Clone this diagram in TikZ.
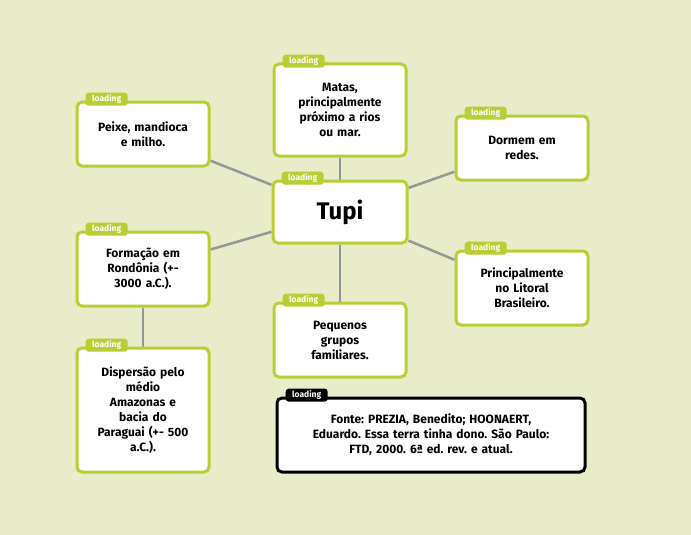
\documentclass[tikz,border=0pt]{standalone}
\usepackage{fontspec}
\setmainfont{Fira Sans}
\frenchspacing
\usetikzlibrary{backgrounds}
\definecolor{bg}{RGB}{232,236,201}
\definecolor{grn}{RGB}{184,206,52}
\definecolor{edge}{RGB}{150,150,150}
\tikzset{
 box/.style={draw=grn,line width=3pt,rounded corners=5pt,fill=white,align=center,font=\bfseries\fontsize{12}{15}\selectfont,inner sep=3pt},
 tab/.style={fill=grn,rounded corners=3pt,text=white,font=\bfseries\fontsize{8.5}{8.5}\selectfont,inner sep=2pt,minimum width=42pt,minimum height=13pt},
 link/.style={draw=edge,line width=2.5pt}
}
\newcommand{\bx}[7]{%
 \node[box,#7,minimum width=#4pt,minimum height=#5pt,text width=#4pt-12pt] (#1) at (#2,#3) {#6};
}
\newcommand{\tb}[2]{\node[tab,anchor=north west] (#1t) at ([xshift=10pt,yshift=8pt]#2.north west) {loading};}
\begin{document}
\begin{tikzpicture}[x=1pt,y=-1pt]
\bx{tupi}{340}{212}{134}{62}{\fontsize{24}{28}\selectfont Tupi}{}
\bx{matas}{340}{110}{132}{92}{Matas,\\principalmente\\próximo a rios\\ou mar.}{}
\bx{peixe}{143}{134}{132}{64}{Peixe, mandioca\\e milho.}{}
\bx{dorm}{522}{148}{132}{64}{Dormem em\\redes.}{}
\bx{form}{143}{269}{132}{74}{Formação em\\Rondônia (+-\\3000 a.C.).}{}
\bx{princ}{522}{288}{132}{74}{Principalmente\\no Litoral\\Brasileiro.}{}
\bx{peq}{340}{340}{132}{74}{Pequenos\\grupos\\familiares.}{}
\bx{disp}{143}{410}{132}{124}{Dispersão pelo\\médio\\Amazonas e\\bacia do\\Paraguai (+- 500\\a.C.).}{}
\bx{fonte}{431}{435}{308}{74}{Fonte: PREZIA, Benedito; HOONAERT,\\Eduardo. Essa terra tinha dono. São Paulo:\\FTD, 2000. 6ª ed. rev. e atual.}{draw=black,text width=300pt}
\tb{tupi}{tupi}\tb{matas}{matas}\tb{peixe}{peixe}\tb{dorm}{dorm}\tb{form}{form}\tb{princ}{princ}\tb{peq}{peq}\tb{disp}{disp}
\node[tab,fill=black,anchor=north west] (fontet) at ([xshift=10pt,yshift=8pt]fonte.north west) {loading};
\begin{scope}[on background layer]
\fill[bg] (0,0) rectangle (691,535);
\path[link] (tupi.north) -- (matas.south);
\path[link] (tupi) -- (peixe);
\path[link] (tupi) -- (dorm);
\path[link] (tupi) -- (form);
\path[link] (tupi) -- (princ);
\path[link] (tupi.south) -- (peq.north);
\path[link] (form.south) -- (disp.north);
\end{scope}
\end{tikzpicture}
\end{document}
